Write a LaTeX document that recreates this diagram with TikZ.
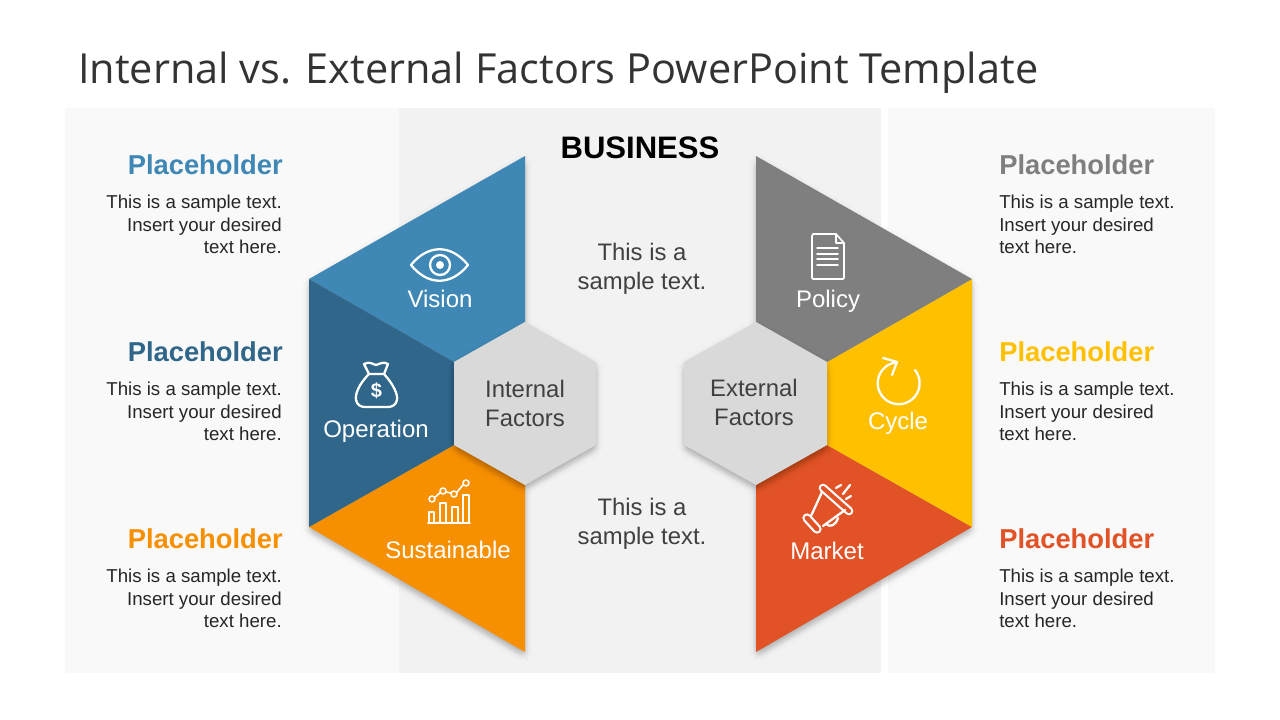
\documentclass[tikz,border=0pt]{standalone}
\usepackage{fontspec}
\setmainfont{Liberation Sans}
\newfontfamily\titlefont{Open Sans}
\definecolor{visionblue}{HTML}{3F88B5}
\definecolor{operationblue}{HTML}{2F6689}
\definecolor{sustainorange}{HTML}{F79000}
\definecolor{policygrey}{HTML}{7F7F7F}
\definecolor{cycleyellow}{HTML}{FFC000}
\definecolor{marketred}{HTML}{E15226}
\definecolor{hexgrey}{HTML}{D9D9D9}
\definecolor{sidepanel}{HTML}{F9F9F9}
\definecolor{midpanel}{HTML}{F2F2F2}
\definecolor{bodytext}{HTML}{404040}
\newcommand{\softshadow}[1]{\foreach \r in {1,3,5,7} \foreach \a in {0,60,...,300} \fill[black,opacity=.012,yshift=-3pt,shift={(\a:\r)}] #1;}
\tikzset{
  x=0.75pt, y=-0.75pt,
  headtext/.style={inner sep=0pt, font=\bfseries\fontsize{20.5}{24}\selectfont, anchor=east},
  lefttext/.style={inner sep=0pt, align=right, anchor=north east, text=black!85, font=\fontsize{14}{16.9}\selectfont},
  righttext/.style={inner sep=0pt, align=left, anchor=north west, text=black!85, font=\fontsize{14}{16.9}\selectfont},
  iconlabel/.style={inner sep=0pt, text=white, font=\fontsize{18}{21}\selectfont},
  midtext/.style={inner sep=0pt, align=center, text=bodytext, font=\fontsize{17.9}{21.8}\selectfont},
  icon/.style={draw=white, line width=1.7pt, line join=round, line cap=round},
  thinicon/.style={icon, line width=1.2pt},
}
\begin{document}
\begin{tikzpicture}
\useasboundingbox (0,0) rectangle (1280,720);
\fill[white] (0,0) rectangle (1280,720);
% panels
\fill[sidepanel] (65,108) rectangle (399,673);
\fill[midpanel] (399,108) rectangle (881,673);
\fill[sidepanel] (888,108) rectangle (1215,673);
% title
\node[inner sep=0pt, anchor=west, text=black!80] (title) at (78,73) {\titlefont\fontsize{31.1}{38}\selectfont Internal vs. External Factors PowerPoint Template};
\node[inner sep=0pt, font=\bfseries\fontsize{23.3}{28}\selectfont] (business) at (640,148) {BUSINESS};
% left hexagon
\softshadow{(525,156) -- (525,322) -- (454,362) -- (454,445) -- (525,485) -- (525,652) -- (309,527) -- (309,279) -- cycle}
\fill[sustainorange] (309,527) -- (454,445) -- (525,485) -- (525,652) -- cycle;
\fill[visionblue] (525,156) -- (525,322) -- (454,362) -- (309,279) -- cycle;
\fill[operationblue] (309,279) -- (454,362) -- (454,445) -- (309,527) -- cycle;
\softshadow{(525,322) -- (596,362) -- (596,445) -- (525,485) -- (454,445) -- (454,362) -- cycle}
\fill[hexgrey] (525,322) -- (596,362) -- (596,445) -- (525,485) -- (454,445) -- (454,362) -- cycle;
% right hexagon
\softshadow{(756,156) -- (972,279) -- (972,527) -- (756,652) -- (756,485) -- (827,445) -- (827,362) -- (756,322) -- cycle}
\fill[marketred] (972,527) -- (756,652) -- (756,485) -- (827,445) -- cycle;
\fill[cycleyellow] (972,279) -- (972,527) -- (827,445) -- (827,362) -- cycle;
\fill[policygrey] (756,156) -- (972,279) -- (827,362) -- (756,322) -- cycle;
\softshadow{(756,322) -- (827,362) -- (827,445) -- (756,485) -- (684,445) -- (684,362) -- cycle}
\fill[hexgrey] (756,322) -- (827,362) -- (827,445) -- (756,485) -- (684,445) -- (684,362) -- cycle;
% hexagon texts
\node[midtext] (internal) at (525,403.5) {Internal\\Factors};
\node[midtext] (external) at (754,402.5) {External\\Factors};
\node[midtext] (sampletop) at (642,268.5) {This is a\\sample text.};
\node[midtext] (samplebottom) at (642,523.5) {This is a\\sample text.};
% segment labels
\node[iconlabel] (vision) at (440,299) {Vision};
\node[iconlabel] (operation) at (376,431) {Operation};
\node[iconlabel] (sustainable) at (448,550) {Sustainable};
\node[iconlabel] (policy) at (828,301) {Policy};
\node[iconlabel] (cycle) at (898,423) {Cycle};
\node[iconlabel] (market) at (827,551) {Market};
% eye
\draw[icon] (411,265) .. controls (428,244) and (451,244) .. (468,265) .. controls (451,286) and (428,286) .. (411,265) -- cycle;
\draw[icon] (440,265) circle[radius=10];
\fill[white] (440,265) circle[radius=4];
% money bag
\draw[icon] (369,374) .. controls (358,385) and (355,395) .. (356,400) .. controls (357,405) and (361,407) .. (365,407) -- (388,407) .. controls (392,407) and (396,405) .. (397,400) .. controls (398,395) and (394,385) .. (384,374) -- cycle;
\draw[icon] (369,374) -- (364,364) .. controls (370,361) and (372,364) .. (376,365) .. controls (380,364) and (383,361) .. (388,364) -- (384,374);
\node[inner sep=0pt, text=white, font=\bfseries\fontsize{15}{17}\selectfont] (dollar) at (376.5,391) {\$};
% chart
\draw[thinicon] (428,523) -- (470,523);
\draw[thinicon] (429,523) -- (429,512) -- (434,512) -- (434,523);
\draw[thinicon] (440,523) -- (440,503) -- (446,503) -- (446,523);
\draw[thinicon] (452,523) -- (452,507) -- (458,507) -- (458,523);
\draw[thinicon] (463,523) -- (463,495) -- (469,495) -- (469,523);
\draw[thinicon] (434.7,497.5) -- (440.3,492.5);
\draw[thinicon] (446,492) -- (451,493);
\draw[thinicon] (456.6,492.5) -- (463.4,484.5);
\foreach \cx/\cy in {432/499, 443/491, 454/494, 466/483}
  \draw[thinicon] (\cx,\cy) circle[radius=3];
% document
\draw[thinicon] (836,234) -- (813,234) -- (812,236) -- (812,278) -- (813,279) -- (843,279) -- (844,278) -- (844,243) -- cycle;
\draw[thinicon] (836,234) -- (836,243) -- (844,243);
\foreach \ly in {248,254,259,265}
  \draw[thinicon] (817,\ly) -- (838,\ly);
% cycle arrow
\draw[icon] (915,370) arc[start angle=-39, end angle=265, radius=21];
\draw[icon] (883,358) -- (897,362) -- (892,375);
% megaphone
\draw[icon, line width=6.5pt] (823,488) -- (849,511);
\draw[marketred, line width=3.2pt, line cap=round] (823,488) -- (849,511);
\draw[icon] (822,492) -- (811,516);
\draw[icon] (845,510) -- (823,526);
\draw[icon, line width=7pt] (807,518) -- (817,529);
\draw[marketred, line width=3.6pt, line cap=round] (807,518) -- (817,529);
\draw[icon] (826,524) .. controls (830,528) and (836,525) .. (838,518);
\draw[icon] (836,488) -- (841,485);
\draw[icon] (843,494) -- (850,485);
\draw[icon] (846,499) -- (851,496);
% left column
\node[headtext, text=visionblue] (headvision) at (283,165) {Placeholder};
\node[lefttext] (bodyvision) at (282,195) {This is a sample text.\\Insert your desired\\text here.};
\node[headtext, text=operationblue] (headoperation) at (283,352) {Placeholder};
\node[lefttext] (bodyoperation) at (282,382) {This is a sample text.\\Insert your desired\\text here.};
\node[headtext, text=sustainorange] (headsustain) at (283,539) {Placeholder};
\node[lefttext] (bodysustain) at (282,569) {This is a sample text.\\Insert your desired\\text here.};
% right column
\node[headtext, anchor=west, text=policygrey] (headpolicy) at (999,165) {Placeholder};
\node[righttext] (bodypolicy) at (999,195) {This is a sample text.\\Insert your desired\\text here.};
\node[headtext, anchor=west, text=cycleyellow] (headcycle) at (999,352) {Placeholder};
\node[righttext] (bodycycle) at (999,382) {This is a sample text.\\Insert your desired\\text here.};
\node[headtext, anchor=west, text=marketred] (headmarket) at (999,539) {Placeholder};
\node[righttext] (bodymarket) at (999,569) {This is a sample text.\\Insert your desired\\text here.};
\end{tikzpicture}
\end{document}
